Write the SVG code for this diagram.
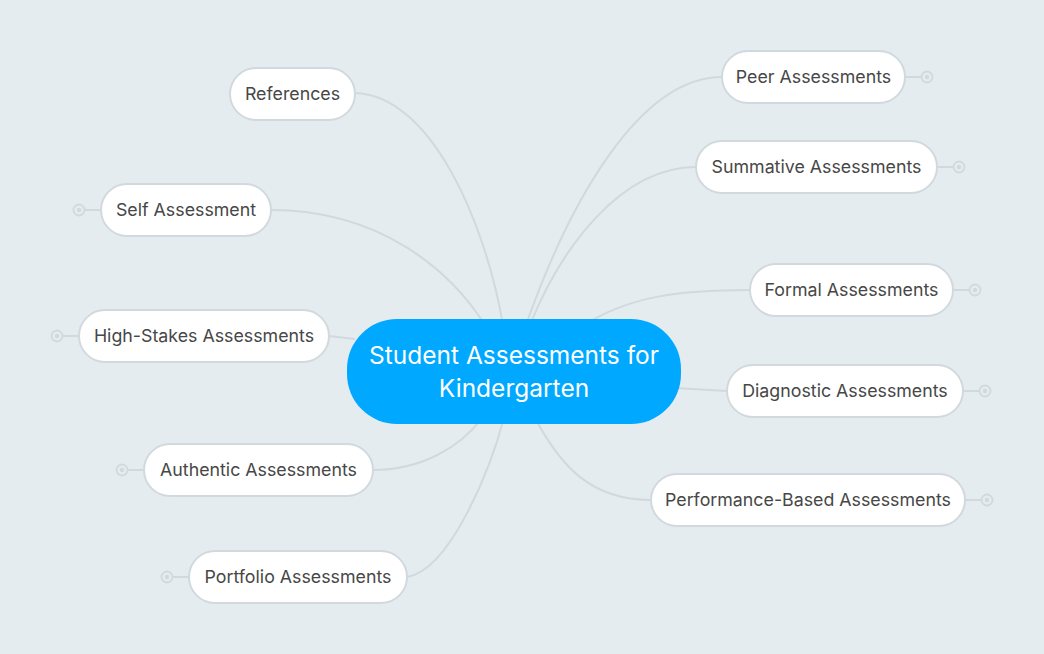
<svg xmlns="http://www.w3.org/2000/svg" width="1044" height="654" viewBox="0 0 1044 654">
<style>
.bg{fill:#e5ecf0}
.conn{fill:none;stroke:#d2d9de;stroke-width:2}
.node rect{fill:#ffffff;stroke:#d2d9de;stroke-width:2}
.node text{font-family:Inter,"Noto Sans",sans-serif;font-size:17.8px;fill:#474747;text-anchor:middle;dominant-baseline:central}
.root rect{fill:#00a9ff}
.root text{font-family:Inter,"Noto Sans",sans-serif;font-size:24.5px;fill:#ffffff;text-anchor:middle;dominant-baseline:central}
.ind line{stroke:#d2d9de;stroke-width:2}
.ind circle.o{fill:none;stroke:#d2d9de;stroke-width:1.8}
.ind circle.i{fill:#d2d9de}
</style>
<rect class="bg" x="0" y="0" width="1044" height="654"/>
<g id="connectors">
<path class="conn" d="M355,93 C430,95 485,220 503,325"/>
<path class="conn" d="M271,210 C380,210 450,270 485,325"/>
<path class="conn" d="M329,336 L355,339"/>
<path class="conn" d="M373,470 C420,470 460,448 482,418"/>
<path class="conn" d="M407,577 C450,570 490,470 504,418"/>
<path class="conn" d="M722,77 C640,77 570,200 526,325"/>
<path class="conn" d="M696,167 C620,167 560,250 530,325"/>
<path class="conn" d="M750,290 C680,290 630,296 584,325"/>
<path class="conn" d="M727,391 L675,388"/>
<path class="conn" d="M651,500 C590,500 560,465 535,418"/>
</g>
<g id="root" class="root">
<rect x="347" y="319" width="334" height="105" rx="50" ry="50"/>
<text x="514" y="355">Student Assessments for</text>
<text x="514" y="388">Kindergarten</text>
</g>
<g id="n-references" class="node">
<rect x="230" y="68" width="125" height="52" rx="26"/>
<text x="292.5" y="93">References</text>
</g>
<g id="n-self" class="node">
<g class="ind"><line x1="85" y1="210" x2="101" y2="210"/><circle class="o" cx="79" cy="210" r="5.5"/><circle class="i" cx="79" cy="210" r="2.2"/></g>
<rect x="101" y="184" width="170" height="52" rx="26"/>
<text x="186" y="209">Self Assessment</text>
</g>
<g id="n-highstakes" class="node">
<g class="ind"><line x1="63" y1="336" x2="79" y2="336"/><circle class="o" cx="57" cy="336" r="5.5"/><circle class="i" cx="57" cy="336" r="2.2"/></g>
<rect x="79" y="310" width="250" height="52" rx="26"/>
<text x="204" y="335">High-Stakes Assessments</text>
</g>
<g id="n-authentic" class="node">
<g class="ind"><line x1="128" y1="470" x2="144" y2="470"/><circle class="o" cx="122" cy="470" r="5.5"/><circle class="i" cx="122" cy="470" r="2.2"/></g>
<rect x="144" y="444" width="229" height="52" rx="26"/>
<text x="258.5" y="469">Authentic Assessments</text>
</g>
<g id="n-portfolio" class="node">
<g class="ind"><line x1="173" y1="577" x2="189" y2="577"/><circle class="o" cx="167" cy="577" r="5.5"/><circle class="i" cx="167" cy="577" r="2.2"/></g>
<rect x="189" y="551" width="218" height="52" rx="26"/>
<text x="298" y="576">Portfolio Assessments</text>
</g>
<g id="n-peer" class="node">
<g class="ind"><line x1="905" y1="77" x2="921" y2="77"/><circle class="o" cx="927" cy="77" r="5.5"/><circle class="i" cx="927" cy="77" r="2.2"/></g>
<rect x="722" y="51" width="183" height="52" rx="26"/>
<text x="813.5" y="76">Peer Assessments</text>
</g>
<g id="n-summative" class="node">
<g class="ind"><line x1="937" y1="167" x2="953" y2="167"/><circle class="o" cx="959" cy="167" r="5.5"/><circle class="i" cx="959" cy="167" r="2.2"/></g>
<rect x="696" y="141" width="241" height="52" rx="26"/>
<text x="816.5" y="166">Summative Assessments</text>
</g>
<g id="n-formal" class="node">
<g class="ind"><line x1="953" y1="290" x2="969" y2="290"/><circle class="o" cx="975" cy="290" r="5.5"/><circle class="i" cx="975" cy="290" r="2.2"/></g>
<rect x="750" y="264" width="203" height="52" rx="26"/>
<text x="851.5" y="289">Formal Assessments</text>
</g>
<g id="n-diagnostic" class="node">
<g class="ind"><line x1="963" y1="391" x2="979" y2="391"/><circle class="o" cx="985" cy="391" r="5.5"/><circle class="i" cx="985" cy="391" r="2.2"/></g>
<rect x="727" y="365" width="236" height="52" rx="26"/>
<text x="845" y="390">Diagnostic Assessments</text>
</g>
<g id="n-performance" class="node">
<g class="ind"><line x1="965" y1="500" x2="981" y2="500"/><circle class="o" cx="987" cy="500" r="5.5"/><circle class="i" cx="987" cy="500" r="2.2"/></g>
<rect x="651" y="474" width="314" height="52" rx="26"/>
<text x="808" y="499">Performance-Based Assessments</text>
</g>
</svg>
